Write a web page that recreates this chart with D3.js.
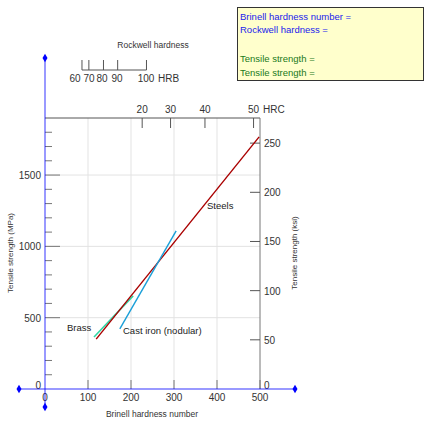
<!DOCTYPE html>
<html><head><meta charset="utf-8">
<script src="https://cdn.jsdelivr.net/npm/d3@7"></script>
<style>body{margin:0;background:#fff}text{font-family:Arial,"Liberation Sans",sans-serif}</style>
</head><body><svg id="c" width="430" height="430"></svg>
<script>
const brinellTicks=[0,100,200,300,400,500];
const mpaTicks=[0,500,1000,1500];
const ksiTicks=[0,50,100,150,200,250];
const hrcTicks=[20,30,40,50], hrcHB=[226,292,372,485];
const hrbTicks=[60,70,80,90,100], hrbHB=[86,102,136,169,236];
const steels=[[119,350],[498,1768]];
const brass=[[114,365],[205,653]];
const castIron=[[174,421],[305,1109]];
const svg=d3.select("#c");
const x=d3.scaleLinear().domain([0,500]).range([45,260]);
const y=d3.scaleLinear().domain([0,1900]).range([389,118]);
const yk=v=>y(v*6.895);
const g=svg.append("g");
// grid
g.selectAll(".gx").data(brinellTicks.slice(1,5)).join("line").attr("x1",d=>x(d)).attr("x2",d=>x(d)).attr("y1",118).attr("y2",389).attr("stroke","#e3e3e3");
g.selectAll(".gy").data(mpaTicks.slice(1)).join("line").attr("x1",45).attr("x2",260).attr("y1",d=>y(d)).attr("y2",d=>y(d)).attr("stroke","#e3e3e3");
// frame
g.append("line").attr("x1",45).attr("x2",260).attr("y1",118).attr("y2",118).attr("stroke","#555");
g.append("line").attr("x1",260).attr("x2",260).attr("y1",118).attr("y2",389).attr("stroke","#777");
// bottom ticks
g.selectAll(".bt").data(brinellTicks.slice(1)).join("line").attr("x1",d=>x(d)).attr("x2",d=>x(d)).attr("y1",389).attr("y2",380).attr("stroke","#777");
g.selectAll(".bl").data(brinellTicks).join("text").attr("x",d=>x(d)).attr("y",401).attr("text-anchor","middle").attr("font-size",10).attr("fill","#333").text(d=>d);
// left ticks minor every 100
g.selectAll(".lt").data(d3.range(100,1900,100)).join("line").attr("x1",45).attr("x2",d=>d%500?52:60).attr("y1",d=>y(d)).attr("y2",d=>y(d)).attr("stroke","#777");
g.selectAll(".ll").data(mpaTicks).join("text").attr("x",41).attr("y",d=>y(d)+(d?4:0)).attr("text-anchor","end").attr("font-size",10).attr("fill","#333").text(d=>d);
// right ticks
g.selectAll(".rt").data(ksiTicks.slice(1)).join("line").attr("x1",250).attr("x2",260).attr("y1",d=>yk(d)).attr("y2",d=>yk(d)).attr("stroke","#555");
g.selectAll(".rl").data(ksiTicks).join("text").attr("x",264).attr("y",d=>yk(d)+(d?4:0)).attr("font-size",10).attr("fill","#333").text(d=>d);
// HRC
g.selectAll(".ht").data(hrcHB).join("line").attr("x1",d=>x(d)).attr("x2",d=>x(d)).attr("y1",118).attr("y2",128).attr("stroke","#555");
g.selectAll(".hl").data(hrcTicks).join("text").attr("x",(d,i)=>x(hrcHB[i])).attr("y",113).attr("text-anchor","middle").attr("font-size",10).attr("fill","#333").text(d=>d);
g.append("text").attr("x",263).attr("y",113).attr("font-size",10).attr("fill","#333").text("HRC");
// HRB
g.append("line").attr("x1",x(hrbHB[0])).attr("x2",x(hrbHB[4])).attr("y1",70).attr("y2",70).attr("stroke","#555");
g.selectAll(".rbt").data(hrbHB).join("line").attr("x1",d=>x(d)).attr("x2",d=>x(d)).attr("y1",60).attr("y2",70).attr("stroke","#555");
const hbx=[75,89,102,117,146];
g.selectAll(".rbl").data(hrbTicks).join("text").attr("x",(d,i)=>hbx[i]).attr("y",82).attr("text-anchor","middle").attr("font-size",10).attr("fill","#333").text(d=>d);
g.append("text").attr("x",158).attr("y",82).attr("font-size",10).attr("fill","#333").text("HRB");
g.append("text").attr("x",153).attr("y",48).attr("text-anchor","middle").attr("font-size",8.5).attr("fill","#333").text("Rockwell hardness");
// axis titles
g.append("text").attr("x",152).attr("y",417).attr("text-anchor","middle").attr("font-size",8.5).attr("fill","#333").text("Brinell hardness number");
g.append("text").attr("transform","translate(13,253) rotate(-90)").attr("text-anchor","middle").attr("font-size",8).attr("fill","#333").text("Tensile strength (MPa)");
g.append("text").attr("transform","translate(297,253) rotate(-90)").attr("text-anchor","middle").attr("font-size",8).attr("fill","#333").text("Tensile strength (ksi)");
// blue axes
g.append("line").attr("x1",45).attr("x2",45).attr("y1",58).attr("y2",407).attr("stroke","#00f").attr("stroke-opacity",0.8);
g.append("line").attr("x1",19).attr("x2",295).attr("y1",389).attr("y2",389).attr("stroke","#00f").attr("stroke-opacity",0.8);
[[45,58],[45,407],[19,389],[295,389]].forEach(p=>g.append("path").attr("d",d3.symbol(d3.symbolDiamond,22)()).attr("transform",`translate(${p})`).attr("fill","#00f"));
// lines
const line=d3.line().x(d=>x(d[0])).y(d=>y(d[1]));
g.append("path").attr("d",line(brass)).attr("stroke","#33d6a6").attr("stroke-width",1.6).attr("fill","none");
g.append("path").attr("d",line(steels)).attr("stroke","#aa0000").attr("stroke-width",1.4).attr("fill","none");
g.append("path").attr("d",line(castIron)).attr("stroke","#1a9fd8").attr("stroke-width",1.4).attr("fill","none");
g.append("text").attr("x",207).attr("y",209).attr("font-size",9.5).attr("fill","#222").text("Steels");
g.append("text").attr("x",67).attr("y",331).attr("font-size",9.5).attr("fill","#222").text("Brass");
g.append("text").attr("x",123).attr("y",334).attr("font-size",9.5).attr("fill","#222").text("Cast iron (nodular)");
// info box
g.append("rect").attr("x",237.5).attr("y",7.5).attr("width",186).attr("height",73).attr("fill","#ffffcc").attr("stroke","#333");
[["Brinell hardness number =","#2222ee",20],["Rockwell hardness =","#2222ee",33],["Tensile strength =","#1a7a1a",62],["Tensile strength =","#1a7a1a",76]].forEach(t=>g.append("text").attr("x",240).attr("y",t[2]).attr("font-size",9.5).attr("fill",t[1]).text(t[0]));
</script></body></html>
